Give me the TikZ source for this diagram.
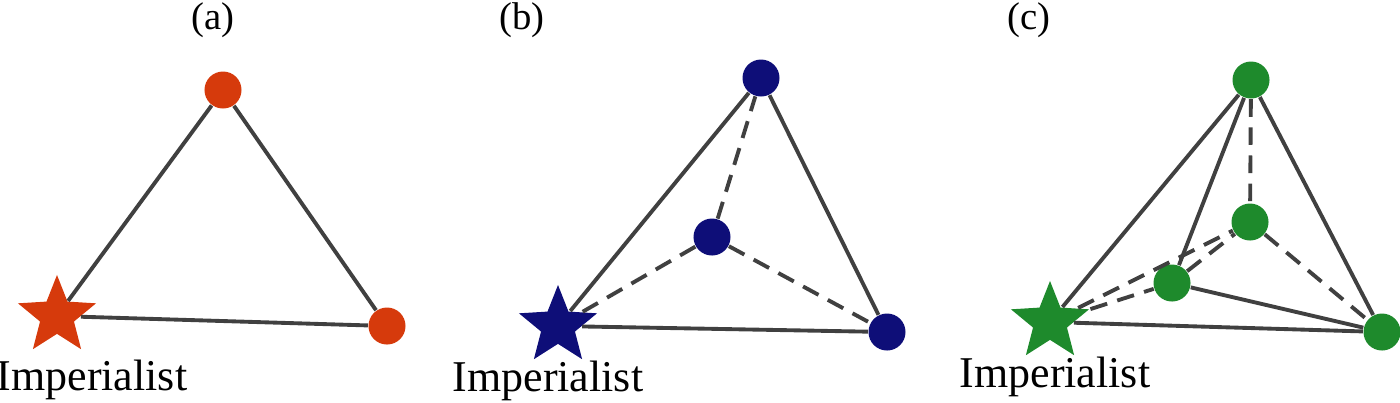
\documentclass[tikz,border=0pt]{standalone}
\usepackage{fontspec}
\setmainfont{Liberation Serif}
\usetikzlibrary{shapes.geometric}
\definecolor{cA}{HTML}{D63A0C}
\definecolor{cB}{HTML}{0E0E78}
\definecolor{cC}{HTML}{1E8A2C}
\begin{document}
\begin{tikzpicture}[x=0.01cm,y=-0.01cm,
  dot/.style={circle,minimum size=0.37cm,inner sep=0pt},
  stargl/.style={star,star points=5,star point ratio=2.3,minimum size=0.82cm,inner sep=0pt},
  edge/.style={draw=black!75,line width=1.1pt},
  dedge/.style={edge,dash pattern=on 5pt off 3pt},
  lab/.style={font=\fontsize{11}{13}\selectfont},
  caption text/.style={font=\fontsize{12.5}{14}\selectfont}]
\useasboundingbox (0,0) rectangle (1400,402);
% (a)
\node[lab] (la) at (213,20) {(a)};
\node[dot,fill=cA] (at) at (223,90) {};
\node[dot,fill=cA] (ar) at (387,326) {};
\node[stargl,fill=cA] (as) at (57,316) {};
\draw[edge] (as) -- (at); \draw[edge] (at) -- (ar); \draw[edge] (as) -- (ar);
\node[caption text] (ia) at (92,380) {Imperialist};
% (b)
\node[lab] (lb) at (522,20) {(b)};
\node[dot,fill=cB] (bt) at (761,78) {};
\node[dot,fill=cB] (bm) at (712,237) {};
\node[dot,fill=cB] (br) at (887,332) {};
\node[stargl,fill=cB] (bs) at (558,326) {};
\draw[edge] (bs) -- (bt); \draw[edge] (bt) -- (br); \draw[edge] (bs) -- (br);
\draw[dedge] (bs) -- (bm); \draw[dedge] (bm) -- (bt); \draw[dedge] (bm) -- (br);
\node[caption text] (ib) at (548,381) {Imperialist};
% (c)
\node[lab] (lc) at (1029,20) {(c)};
\node[dot,fill=cC] (ct) at (1251,80) {};
\node[dot,fill=cC] (cm) at (1250,222) {};
\node[dot,fill=cC] (cl) at (1172,283) {};
\node[dot,fill=cC] (cr) at (1382,332) {};
\node[stargl,fill=cC] (cs) at (1050,322) {};
\draw[edge] (cs) -- (ct); \draw[edge] (ct) -- (cr); \draw[edge] (cs) -- (cr);
\draw[edge] (ct) -- (cl); \draw[edge] (cl) -- (cr);
\draw[dedge] (cs) -- (cm); \draw[dedge] (cs) -- (cl); \draw[dedge] (cl) -- (cm);
\draw[dedge] (ct) -- (cm); \draw[dedge] (cm) -- (cr);
\node[caption text] (ic) at (1055,377) {Imperialist};
\end{tikzpicture}
\end{document}
